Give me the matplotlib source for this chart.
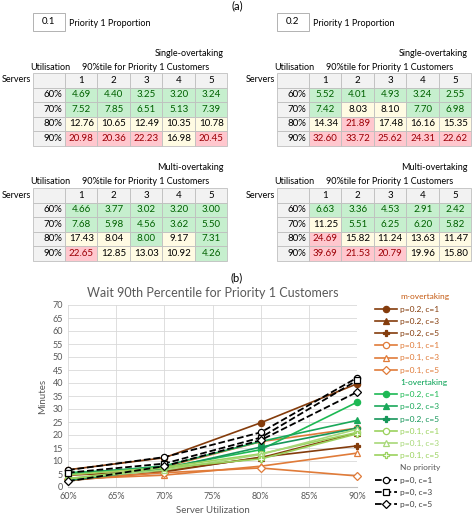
import matplotlib
matplotlib.use('Agg')
import matplotlib.pyplot as plt
from matplotlib.patches import Rectangle
from matplotlib.lines import Line2D

plt.rcParams['font.family'] = ['Lato', 'DejaVu Sans']

utils = ['60%', '70%', '80%', '90%']
servers = ['1', '2', '3', '4', '5']
util_x = [0.6, 0.7, 0.8, 0.9]

single_01 = [[4.69, 4.40, 3.25, 3.20, 3.24],
             [7.52, 7.85, 6.51, 5.13, 7.39],
             [12.76, 10.65, 12.49, 10.35, 10.78],
             [20.98, 20.36, 22.23, 16.98, 20.45]]
multi_01 = [[4.66, 3.77, 3.02, 3.20, 3.00],
            [7.68, 5.98, 4.56, 3.62, 5.50],
            [17.43, 8.04, 8.00, 9.17, 7.31],
            [22.65, 12.85, 13.03, 10.92, 4.26]]
single_02 = [[5.52, 4.01, 4.93, 3.24, 2.55],
             [7.42, 8.03, 8.10, 7.70, 6.98],
             [14.34, 21.89, 17.48, 16.16, 15.35],
             [32.60, 33.72, 25.62, 24.31, 22.62]]
multi_02 = [[6.63, 3.36, 4.53, 2.91, 2.42],
            [11.25, 5.51, 6.25, 6.20, 5.82],
            [24.69, 15.82, 11.24, 13.63, 11.47],
            [39.69, 21.53, 20.79, 19.96, 15.80]]

# no-priority series
nopri_c1 = [6.5, 11.5, 21.0, 42.0]
nopri_c3 = [5.5, 9.0, 19.0, 41.0]
nopri_c5 = [2.2, 8.0, 18.0, 36.5]

fig = plt.figure(figsize=(4.74, 5.21), dpi=100)
bg = fig.add_axes([0, 0, 1, 1])
bg.set_xlim(0, 474)
bg.set_ylim(521, 0)
bg.axis('off')


def cell_style(v):
    if v <= 8.0:
        return '#c6efce', '#006100'
    if v > 20:
        return '#ffc7ce', '#9c0006'
    return '#fffbe3', '#000000'


def draw_table(x0, y0, title, data):
    fs = 7
    bg.text(x0 + 191, y0 - 20, title, ha='right', va='center', fontsize=6.5)
    bg.text(x0 - 3, y0 - 6, 'Utilisation', ha='left', va='center', fontsize=6.5)
    bg.text(x0 + 113, y0 - 6, '90%tile for Priority 1 Customers', ha='center', va='center', fontsize=6.5)
    bg.text(x0 - 2, y0 + 7, 'Servers', ha='right', va='center', fontsize=6.5)
    lw, cw, rh = 32, 32.5, 14.5
    for j in range(6):
        x = x0 if j == 0 else x0 + lw + (j - 1) * cw
        w = lw if j == 0 else cw
        bg.add_patch(Rectangle((x, y0), w, rh, fc='#f2f2f2', ec='#bfbfbf', lw=0.6))
        if j > 0:
            bg.text(x + w / 2, y0 + rh / 2, servers[j - 1], ha='center', va='center', fontsize=fs)
    for i, row in enumerate(data):
        y = y0 + rh * (i + 1)
        bg.add_patch(Rectangle((x0, y), lw, rh, fc='#f2f2f2', ec='#bfbfbf', lw=0.6))
        bg.text(x0 + lw - 3, y + rh / 2, utils[i], ha='right', va='center', fontsize=fs)
        for j, v in enumerate(row):
            fc, tc = cell_style(v)
            x = x0 + lw + j * cw
            bg.add_patch(Rectangle((x, y), cw, rh, fc=fc, ec='#bfbfbf', lw=0.6))
            bg.text(x + cw / 2, y + rh / 2, f'{v:.2f}', ha='center', va='center', fontsize=fs, color=tc)


for x0, p, s, m in [(33, '0.1', single_01, multi_01), (277, '0.2', single_02, multi_02)]:
    bg.add_patch(Rectangle((x0, 13), 32, 18, fc='white', ec='#a6a6a6', lw=0.6))
    bg.text(x0 + 16, 22, p, ha='center', va='center', fontsize=7)
    bg.text(x0 + 36, 24, 'Priority 1 Proportion', ha='left', va='center', fontsize=6.5)
    draw_table(x0, 73, 'Single-overtaking', s)
    draw_table(x0, 188, 'Multi-overtaking', m)

bg.text(237, 6, '(a)', ha='center', va='center', fontsize=8)
bg.text(237, 278, '(b)', ha='center', va='center', fontsize=8)

ax = fig.add_axes([68 / 474, 34 / 521, 289 / 474, 182 / 521])
ax.set_xlim(0.6, 0.9)
ax.set_ylim(0, 70)
ax.set_xticks([0.6, 0.65, 0.7, 0.75, 0.8, 0.85, 0.9])
ax.set_xticklabels(['60%', '65%', '70%', '75%', '80%', '85%', '90%'])
ax.set_yticks(range(0, 71, 5))
ax.tick_params(labelsize=6.5, colors='#595959', length=0)
ax.grid(True, color='#d9d9d9', lw=0.6)
for sp in ax.spines.values():
    sp.set_visible(False)
ax.spines['bottom'].set_visible(True)
ax.spines['bottom'].set_color('#bfbfbf')
ax.set_title('Wait 90th Percentile for Priority 1 Customers', fontsize=9, color='#595959', pad=6)
ax.set_xlabel('Server Utilization', fontsize=7, color='#595959')
ax.set_ylabel('Minutes', fontsize=7, color='#595959')


def col(data, j):
    return [row[j] for row in data]


handles = []
labels = []


def header(text, color):
    handles.append(Line2D([], [], color='none'))
    labels.append(text)
    header_colors.append(color)


header_colors = []
series = [
    ('m-overtaking', '#c55a11', [
        ('p=0.2, c=1', col(multi_02, 0), '#843c0c', 'o', True, '-'),
        ('p=0.2, c=3', col(multi_02, 2), '#843c0c', '^', True, '-'),
        ('p=0.2, c=5', col(multi_02, 4), '#843c0c', 'P', True, '-'),
        ('p=0.1, c=1', col(multi_01, 0), '#e07b39', 'o', False, '-'),
        ('p=0.1, c=3', col(multi_01, 2), '#e07b39', '^', False, '-'),
        ('p=0.1, c=5', col(multi_01, 4), '#e07b39', 'D', False, '-'),
    ]),
    ('1-overtaking', '#00a050', [
        ('p=0.2, c=1', col(single_02, 0), '#1db954', 'o', True, '-'),
        ('p=0.2, c=3', col(single_02, 2), '#1aa85a', '^', True, '-'),
        ('p=0.2, c=5', col(single_02, 4), '#17965a', 'P', True, '-'),
        ('p=0.1, c=1', col(single_01, 0), '#9bd25e', 'o', False, '-'),
        ('p=0.1, c=3', col(single_01, 2), '#a8d878', '^', False, '-'),
        ('p=0.1, c=5', col(single_01, 4), '#9bd25e', 'P', False, '-'),
    ]),
    ('No priority', '#595959', [
        ('p=0, c=1', nopri_c1, 'black', 'o', False, '--'),
        ('p=0, c=3', nopri_c3, 'black', 's', False, '--'),
        ('p=0, c=5', nopri_c5, 'black', 'D', False, '--'),
    ]),
]

for name, hcol, items in series:
    header(name, hcol)
    for lab, vals, c, mk, filled, ls in items:
        ln, = ax.plot(util_x, vals, color=c, marker=mk, ls=ls, lw=1.2 if ls == '-' else 1.3,
                      ms=4.5, mfc=c if filled else 'white', mec=c, mew=0.9, clip_on=False)
        handles.append(ln)
        labels.append(lab)
        header_colors.append(c)

leg = fig.legend(handles, labels, loc='upper left', bbox_to_anchor=(372 / 474, 1 - 290 / 521),
                 fontsize=6, frameon=False, handlelength=2.6, labelspacing=0.62,
                 handletextpad=0.4, borderaxespad=0)
for t, c in zip(leg.get_texts(), header_colors):
    t.set_color(c if c != 'black' else '#404040')

fig.savefig('out.png', dpi=100)
